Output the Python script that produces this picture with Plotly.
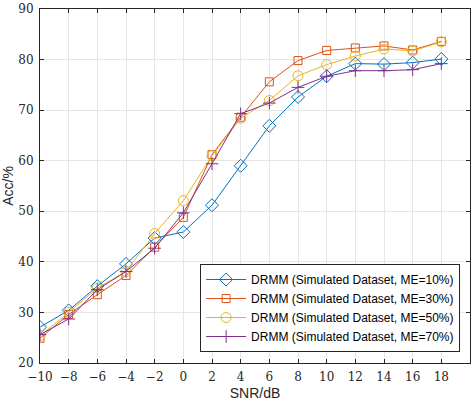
import plotly.graph_objects as go

snr = [-10, -8, -6, -4, -2, 0, 2, 4, 6, 8, 10, 12, 14, 16, 18]
me10 = [27.1, 30.4, 35.2, 39.6, 44.7, 45.9, 51.2, 59.0, 66.9, 72.6, 76.7, 79.2, 79.1, 79.4, 80.1]
me30 = [24.9, 29.6, 33.5, 37.3, 42.9, 48.8, 61.2, 68.6, 75.6, 79.8, 81.8, 82.3, 82.7, 81.9, 83.6]
me50 = [25.4, 30.0, 34.8, 38.1, 45.6, 52.1, 61.0, 68.4, 71.9, 76.8, 79.0, 80.7, 82.1, 81.7, 83.5]
me70 = [25.6, 28.7, 34.5, 38.1, 42.7, 49.7, 59.4, 69.3, 71.4, 74.5, 76.7, 77.8, 77.8, 78.0, 79.2]
names = ["DRMM (Simulated Dataset, ME=10%)", "DRMM (Simulated Dataset, ME=30%)",
         "DRMM (Simulated Dataset, ME=50%)", "DRMM (Simulated Dataset, ME=70%)"]
xticks = [-10, -8, -6, -4, -2, 0, 2, 4, 6, 8, 10, 12, 14, 16, 18]
yticks = [20, 30, 40, 50, 60, 70, 80, 90]

colors = ["#0072BD", "#D95319", "#EDB120", "#7E2F8E"]
symbols = ["diamond-open", "square-open", "circle-open", "cross-thin-open"]
sizes = [10, 8, 10, 9]

fig = go.Figure()
for vals, name, c, s, sz in zip([me10, me30, me50, me70], names, colors, symbols, sizes):
    fig.add_trace(go.Scatter(x=snr, y=vals, name=name, mode="lines+markers",
                             line=dict(color=c, width=1),
                             marker=dict(symbol=s, size=sz, color=c, line=dict(color=c, width=1))))

axis_common = dict(showline=True, linecolor="#262626", linewidth=1, mirror="ticks",
                   ticks="inside", ticklen=4, tickcolor="#262626",
                   showgrid=True, gridcolor="#E6E6E6", gridwidth=1, zeroline=False,
                   tickfont=dict(family="DejaVu Serif", size=12, color="#262626"))

fig.update_xaxes(range=[-10, 20], tickvals=xticks,
                 ticktext=[str(t).replace("-", "\u2212") for t in xticks],
                 ticklabelstandoff=3,
                 title=dict(text="SNR/dB", font=dict(family="Liberation Sans", size=14, color="#262626"), standoff=4),
                 **axis_common)
fig.update_yaxes(range=[20, 90], tickvals=yticks, ticklabelstandoff=3,
                 title=dict(text="Acc/%", font=dict(family="Liberation Sans", size=14, color="#262626"), standoff=2),
                 **axis_common)

fig.update_layout(width=474, height=404, margin=dict(l=40, r=4, t=9, b=41, autoexpand=False),
                  plot_bgcolor="white", paper_bgcolor="white",
                  legend=dict(x=0.977, y=0.031, xanchor="right", yanchor="bottom",
                              bgcolor="white", bordercolor="#262626", borderwidth=1,
                              font=dict(family="Liberation Sans", size=12, color="#000000"),
                              itemwidth=40, tracegroupgap=0),
                  showlegend=True)

fig.write_html("out.html", config={"displayModeBar": False},
               post_script="document.body.style.margin='0';document.body.style.padding='0';")
